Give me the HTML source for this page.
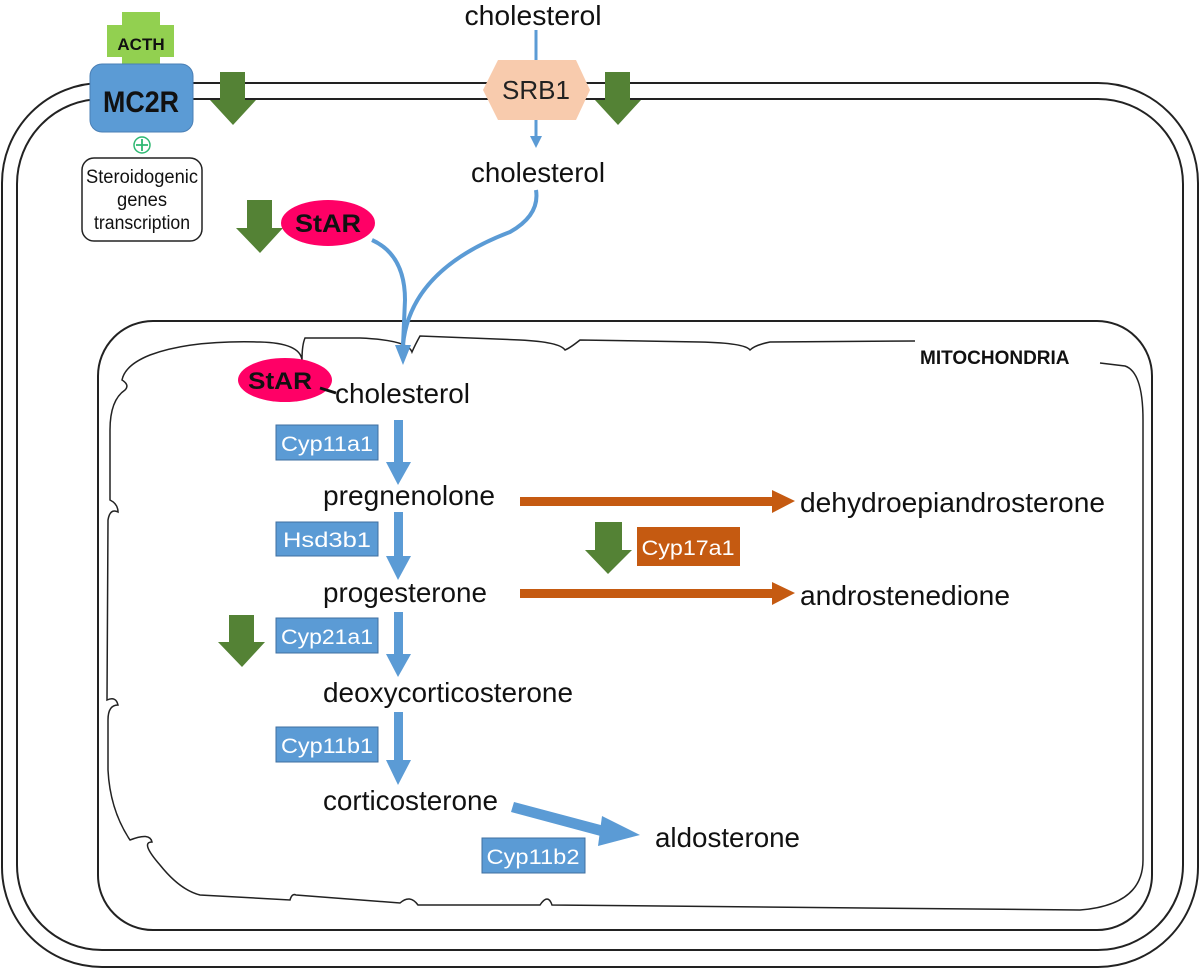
<!DOCTYPE html>
<html><head><meta charset="utf-8"><style>
html,body{margin:0;padding:0;background:#fff}
svg{display:block}
text{font-family:"Liberation Sans",Arial,sans-serif}
</style></head><body>
<svg width="1200" height="969" viewBox="0 0 1200 969" xmlns="http://www.w3.org/2000/svg">
<!-- cell membranes -->
<rect x="2" y="83" width="1196" height="884" rx="100" fill="none" stroke="#222" stroke-width="2"/>
<rect x="17" y="99" width="1166" height="851" rx="85" fill="none" stroke="#222" stroke-width="2"/>
<!-- mitochondria -->
<rect x="98" y="321" width="1054" height="609" rx="55" fill="none" stroke="#222" stroke-width="2"/>
<path d="M915,341 L770,342 Q755,345 750,350 Q745,343 700,342 L580,340 Q570,348 565,350 Q560,342 520,340 L420,336 Q415,345 412,352 Q408,340 360,338 L305,338 Q302,345 302,360 Q300,343 260,342 Q190,340 150,355 Q125,365 122,380 Q130,385 125,390 Q110,400 110,430 L110,500 Q118,504 118,512 Q110,508 108,520 L107,700 Q116,696 118,705 Q108,705 108,720 L108,770 Q110,810 130,840 Q150,832 152,842 Q140,842 160,865 Q180,890 200,895 L290,900 Q292,893 296,895 L400,903 Q410,894 418,905 L540,905 Q548,893 552,905 L1080,910 Q1143,905 1143,860 L1143,420 Q1143,372 1125,366 L1100,363" fill="none" stroke="#222" stroke-width="1.5"/>
<text x="920" y="364" font-size="19" font-weight="bold" fill="#111">MITOCHONDRIA</text>

<!-- ACTH / MC2R -->
<rect x="107" y="25" width="67" height="32" fill="#92d050"/>
<rect x="122" y="12" width="38" height="58" fill="#92d050"/>
<text x="141" y="50" font-size="17" font-weight="bold" text-anchor="middle" fill="#111">ACTH</text>
<rect x="90" y="64" width="103" height="68" rx="12" fill="#5b9bd5" stroke="#4a7fb5" stroke-width="1"/>
<text x="141" y="112" font-size="30" font-weight="bold" text-anchor="middle" fill="#111" textLength="76" lengthAdjust="spacingAndGlyphs">MC2R</text>
<circle cx="142" cy="145" r="8" fill="#fff" stroke="#2eb872" stroke-width="1.5"/>
<path d="M142,139 V151 M136,145 H148" stroke="#2eb872" stroke-width="1.8"/>
<rect x="82" y="158" width="120" height="83" rx="12" fill="#fff" stroke="#222" stroke-width="1.5"/>
<g font-size="19" text-anchor="middle" fill="#111">
<text x="142" y="183" textLength="112" lengthAdjust="spacingAndGlyphs">Steroidogenic</text>
<text x="142" y="206" textLength="50" lengthAdjust="spacingAndGlyphs">genes</text>
<text x="142" y="229" textLength="96" lengthAdjust="spacingAndGlyphs">transcription</text>
</g>

<!-- green arrows -->
<g fill="#548235">
<path d="M220,72 H245 V100 H256 L233,125 L210,100 H220 Z"/>
<path d="M605,72 H630 V100 H641 L618,125 L595,100 H605 Z"/>
<path d="M247,200 H272 V228 H283 L260,253 L236,228 H247 Z"/>
<path d="M229,615 H254 V642 H265 L242,667 L218,642 H229 Z"/>
<path d="M595,522 H622 V550 H632 L608,574 L585,550 H595 Z"/>
</g>

<!-- SRB1 -->
<text x="533" y="25" font-size="28" text-anchor="middle" fill="#111" textLength="137" lengthAdjust="spacingAndGlyphs">cholesterol</text>
<path d="M536,30 V62" stroke="#5b9bd5" stroke-width="3"/>
<polygon points="498,60 576,60 590,90 576,120 498,120 483,90" fill="#f8cbad"/>
<text x="536" y="99" font-size="26" text-anchor="middle" fill="#222">SRB1</text>
<path d="M536,120 V138" stroke="#5b9bd5" stroke-width="3"/>
<path d="M530,136 L542,136 L536,148 Z" fill="#5b9bd5"/>
<text x="538" y="182" font-size="28" text-anchor="middle" fill="#111" textLength="134" lengthAdjust="spacingAndGlyphs">cholesterol</text>
<path d="M536,190 Q540,215 510,232 Q410,270 403,345" fill="none" stroke="#5b9bd5" stroke-width="4"/>
<path d="M372,240 Q405,255 405,300 L403,345" fill="none" stroke="#5b9bd5" stroke-width="4"/>
<path d="M395,345 L411,345 L403,365 Z" fill="#5b9bd5"/>
<ellipse cx="328" cy="223" rx="47" ry="23" fill="#ff0066"/>
<text x="328" y="232" font-size="25" font-weight="bold" text-anchor="middle" fill="#111" textLength="66" lengthAdjust="spacingAndGlyphs">StAR</text>

<!-- mito contents -->
<ellipse cx="285" cy="380" rx="47" ry="22" fill="#ff0066"/>
<text x="280" y="389" font-size="24" font-weight="bold" text-anchor="middle" fill="#111" textLength="64" lengthAdjust="spacingAndGlyphs">StAR</text>
<path d="M320,388 L336,393" stroke="#111" stroke-width="3"/>
<text x="335" y="403" font-size="28" fill="#111" textLength="135" lengthAdjust="spacingAndGlyphs">cholesterol</text>

<g fill="#5b9bd5">
<rect x="394" y="420" width="9" height="44"/><path d="M386,462 L411,462 L398,485 Z"/>
<rect x="394" y="512" width="9" height="46"/><path d="M386,556 L411,556 L398,580 Z"/>
<rect x="394" y="612" width="9" height="44"/><path d="M386,654 L411,654 L398,677 Z"/>
<rect x="394" y="712" width="9" height="50"/><path d="M386,760 L411,760 L398,785 Z"/>
<path d="M514,802 L612,828 L608,838 L511,812 Z"/><path d="M602,816 L640,835 L598,846 Z"/>
</g>
<g font-size="21" fill="#fff" text-anchor="middle">
<rect x="276" y="425" width="102" height="35" fill="#5b9bd5" stroke="#3f6fa0"/><text x="327" y="451" textLength="92" lengthAdjust="spacingAndGlyphs">Cyp11a1</text>
<rect x="276" y="522" width="102" height="34" fill="#5b9bd5" stroke="#3f6fa0"/><text x="327" y="547" textLength="88" lengthAdjust="spacingAndGlyphs">Hsd3b1</text>
<rect x="276" y="618" width="102" height="35" fill="#5b9bd5" stroke="#3f6fa0"/><text x="327" y="644" textLength="92" lengthAdjust="spacingAndGlyphs">Cyp21a1</text>
<rect x="276" y="727" width="102" height="35" fill="#5b9bd5" stroke="#3f6fa0"/><text x="327" y="753" textLength="92" lengthAdjust="spacingAndGlyphs">Cyp11b1</text>
<rect x="482" y="838" width="103" height="35" fill="#5b9bd5" stroke="#3f6fa0"/><text x="533" y="864" textLength="93" lengthAdjust="spacingAndGlyphs">Cyp11b2</text>
<rect x="637" y="527" width="103" height="39" fill="#c55a11"/><text x="688" y="555" textLength="93" lengthAdjust="spacingAndGlyphs">Cyp17a1</text>
</g>
<g font-size="28" fill="#111">
<text x="323" y="505" textLength="172" lengthAdjust="spacingAndGlyphs">pregnenolone</text>
<text x="323" y="602" textLength="164" lengthAdjust="spacingAndGlyphs">progesterone</text>
<text x="323" y="702" textLength="250" lengthAdjust="spacingAndGlyphs">deoxycorticosterone</text>
<text x="323" y="810" textLength="175" lengthAdjust="spacingAndGlyphs">corticosterone</text>
<text x="655" y="847" textLength="145" lengthAdjust="spacingAndGlyphs">aldosterone</text>
<text x="800" y="512" textLength="305" lengthAdjust="spacingAndGlyphs">dehydroepiandrosterone</text>
<text x="800" y="605" textLength="210" lengthAdjust="spacingAndGlyphs">androstenedione</text>
</g>
<g fill="#c55a11">
<rect x="520" y="497" width="255" height="9"/><path d="M772,490 L795,501 L772,513 Z"/>
<rect x="520" y="589" width="255" height="9"/><path d="M772,582 L795,593 L772,605 Z"/>
</g>
</svg>
</body></html>
